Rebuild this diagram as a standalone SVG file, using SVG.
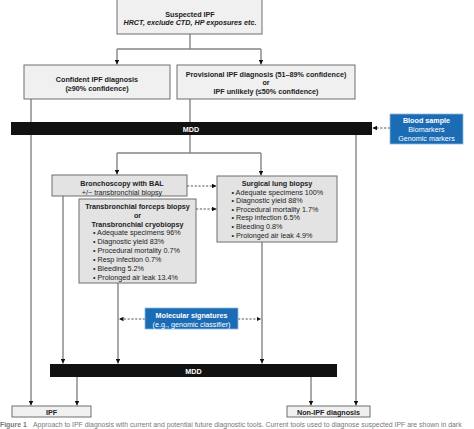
<svg xmlns="http://www.w3.org/2000/svg" width="474" height="429" viewBox="0 0 474 429">
<style>
text{font-family:"Liberation Sans",Arial,sans-serif;font-size:7.2px;fill:#222}
.b{font-weight:bold}
.i{font-style:italic;font-weight:bold}
.m{text-anchor:middle}
.w{fill:#fff}
.box{fill:#f0f0f0;stroke:#6e6e6e;stroke-width:1}
.box2{fill:#e3e3e3;stroke:#6e6e6e;stroke-width:1}
.blue{fill:#1b6cb5;stroke:#8db8e2;stroke-width:0.8}
.bar{fill:#111}
.ln{fill:none;stroke:#858585;stroke-width:1.4}
.dl{fill:none;stroke:#555;stroke-width:1;stroke-dasharray:2.2,1.6}
.cap{font-size:6.9px;fill:#777}
</style>
<defs>
<marker id="ah" viewBox="0 0 6 6" refX="6" refY="3" markerWidth="4.5" markerHeight="4.5" markerUnits="userSpaceOnUse" orient="auto">
<path d="M0,0 L6,3 L0,6 Z" fill="#111"/>
</marker>
</defs>

<g id="connectors">
<path class="ln" d="M190,34 V49 M117,49 H261" />
<path class="ln" d="M117,49 V64.5" marker-end="url(#ah)"/>
<path class="ln" d="M261,49 V64.5" marker-end="url(#ah)"/>
<path class="ln" d="M190,99 V122"/>
<path class="ln" d="M190,135 V153 M117,153 H261"/>
<path class="ln" d="M117,153 V174.5" marker-end="url(#ah)"/>
<path class="ln" d="M261,153 V175.5" marker-end="url(#ah)"/>
<path class="ln" d="M31,99 V405.5" marker-end="url(#ah)"/>
<path class="ln" d="M356,135 V405.5" marker-end="url(#ah)"/>
<path class="ln" d="M63,196 V363.5" marker-end="url(#ah)"/>
<path class="ln" d="M118,283 V363.5" marker-end="url(#ah)"/>
<path class="ln" d="M262,242 V363.5" marker-end="url(#ah)"/>
<path class="ln" d="M77,377 V405.5" marker-end="url(#ah)"/>
<path class="ln" d="M311,377 V405.5" marker-end="url(#ah)"/>
<path class="dl" d="M390,128 H372.5" marker-end="url(#ah)"/>
<path class="dl" d="M187,186 H216.5" marker-end="url(#ah)"/>
<path class="dl" d="M196,209 H216.5" marker-end="url(#ah)"/>
<path class="dl" d="M145,319 H119" marker-end="url(#ah)"/>
<path class="dl" d="M238,319 H261" marker-end="url(#ah)"/>
</g>

<g id="suspected">
<rect class="box" x="117" y="-1" width="145" height="35"/>
<text class="b m" x="190" y="16.5">Suspected IPF</text>
<text class="i m" x="190" y="25">HRCT, exclude CTD, HP exposures etc.</text>
</g>

<g id="confident">
<rect class="box" x="24" y="65" width="146" height="34"/>
<text class="b m" x="97" y="81.5">Confident IPF diagnosis</text>
<text class="b m" x="97" y="90.5">(≥90% confidence)</text>
</g>

<g id="provisional">
<rect class="box" x="177" y="65" width="178" height="34"/>
<text class="b m" x="266" y="76.5">Provisional IPF diagnosis (51–89% confidence)</text>
<text class="b m" x="266" y="85">or</text>
<text class="b m" x="266" y="93.5">IPF unlikely (≤50% confidence)</text>
</g>

<g id="mdd1">
<rect class="bar" x="11" y="122" width="361" height="13"/>
<text class="b m w" x="191" y="131.5">MDD</text>
</g>

<g id="blood">
<rect class="blue" x="390" y="114" width="73" height="30"/>
<text class="b m w" x="426.5" y="122.5">Blood sample</text>
<text class="m w" x="426.5" y="131.5">Biomarkers</text>
<text class="m w" x="426.5" y="140.5">Genomic markers</text>
</g>

<g id="bronchoscopy">
<rect class="box2" x="52" y="175" width="135" height="21"/>
<text class="b m" x="122" y="185.5">Bronchoscopy with BAL</text>
<text class="m" x="122" y="194.5">+/− transbronchial biopsy</text>
</g>

<g id="transbronchial">
<rect class="box2" x="79" y="199" width="117" height="84"/>
<text class="b m" x="137.5" y="209.3">Transbronchial forceps biopsy</text>
<text class="b m" x="137.5" y="217.9">or</text>
<text class="b m" x="137.5" y="226.6">Transbronchial cryobiopsy</text>
<text x="93" y="235.3">• Adequate specimens 96%</text>
<text x="93" y="243.9">• Diagnostic yield 83%</text>
<text x="93" y="253.3">• Procedural mortality 0.7%</text>
<text x="93" y="261.9">• Resp infection 0.7%</text>
<text x="93" y="270.9">• Bleeding 5.2%</text>
<text x="93" y="279.9">• Prolonged air leak 13.4%</text>
</g>

<g id="surgical">
<rect class="box2" x="217" y="176" width="120" height="66"/>
<text class="b m" x="277" y="185.5">Surgical lung biopsy</text>
<text x="231.5" y="194.6">• Adequate specimens 100%</text>
<text x="231.5" y="203.1">• Diagnostic yield 88%</text>
<text x="231.5" y="211.6">• Procedural mortality 1.7%</text>
<text x="231.5" y="220.4">• Resp infection 6.5%</text>
<text x="231.5" y="228.8">• Bleeding 0.8%</text>
<text x="231.5" y="237.6">• Prolonged air leak 4.9%</text>
</g>

<g id="molecular">
<rect class="blue" x="145" y="308" width="93" height="21"/>
<text class="b m w" x="191.5" y="317.5">Molecular signatures</text>
<text class="m w" x="191.5" y="326.5">(e.g., genomic classifier)</text>
</g>

<g id="mdd2">
<rect class="bar" x="50" y="364" width="287" height="13"/>
<text class="b m w" x="193.5" y="373.5">MDD</text>
</g>

<g id="ipf">
<rect class="box" x="12" y="406" width="79" height="11"/>
<text class="b m" x="51.5" y="414.5">IPF</text>
</g>

<g id="nonipf">
<rect class="box" x="287" y="406" width="83" height="11"/>
<text class="b m" x="328.5" y="414.5">Non-IPF diagnosis</text>
</g>

<text class="cap" x="0" y="427"><tspan font-weight="bold">Figure 1</tspan><tspan x="33">Approach to IPF diagnosis with current and potential future diagnostic tools. Current tools used to diagnose suspected IPF are shown in dark</tspan></text>
</svg>
